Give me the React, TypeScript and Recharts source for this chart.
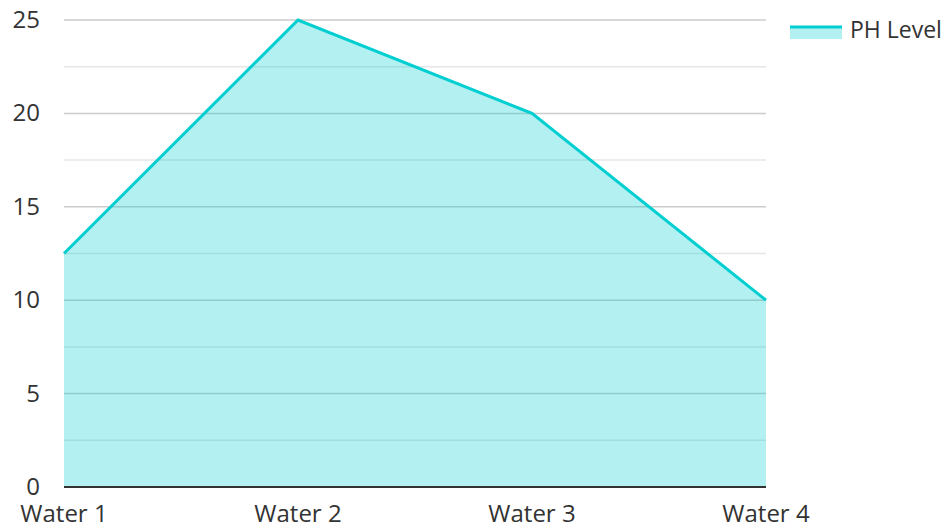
import { AreaChart, Area, XAxis, YAxis, CartesianGrid, Legend } from 'recharts';

const categories = ['Water 1', 'Water 2', 'Water 3', 'Water 4'];
const phLevel = [12.5, 25, 20, 10];
const yTicks = [0, 2.5, 5, 7.5, 10, 12.5, 15, 17.5, 20, 22.5, 25];

const data = categories.map((name, i) => ({ name, ph: phLevel[i] }));

const FONT = '"Open Sans", sans-serif';
const LINE = '#00CED1';

const renderYTick = ({ x, y, payload }: any) => {
  if (payload.value % 5 !== 0) return <g />;
  return (
    <text x={x} y={y} dy={8} textAnchor="end" fill="#333" fontSize={24} fontFamily={FONT}>
      {payload.value}
    </text>
  );
};

const renderGridLine = (props: any) => {
  const { x1, x2, y1, y2, index } = props;
  const major = index % 2 === 0;
  return (
    <line
      key={`h-${index}`}
      x1={x1}
      x2={x2}
      y1={y1}
      y2={y2}
      stroke={major ? '#cccccc' : '#e6e6e6'}
      strokeWidth={1.5}
    />
  );
};

const renderLegend = () => (
  <div style={{ display: 'flex', alignItems: 'center', fontFamily: FONT, fontSize: 23, color: '#333', whiteSpace: 'nowrap' }}>
    <svg width={52} height={16} style={{ marginRight: 8, marginTop: 4 }}>
      <rect x={0} y={4} width={52} height={12} fill={LINE} fillOpacity={0.3} />
      <line x1={0} x2={52} y1={4} y2={4} stroke={LINE} strokeWidth={3} />
    </svg>
    <span>PH Level</span>
  </div>
);

export default function App() {
  return (
    <div style={{ width: 936, height: 518 }}>
      <AreaChart width={944} height={518} data={data} margin={{ top: 12, right: 186, bottom: 0, left: 0 }} style={{ overflow: 'visible' }}>
        <CartesianGrid vertical={false} horizontal={renderGridLine} />
        <XAxis
          dataKey="name"
          axisLine={{ stroke: '#333', strokeWidth: 2 }}
          tickLine={false}
          height={39}
          tickMargin={12}
          interval={0}
          tick={{ fill: '#333', fontSize: 24, fontFamily: FONT }}
        />
        <YAxis
          domain={[0, 25]}
          ticks={yTicks}
          interval={0}
          width={56}
          axisLine={false}
          tickLine={false}
          tickMargin={18}
          tick={renderYTick}
        />
        <Legend
          layout="horizontal"
          verticalAlign="middle"
          align="center"
          content={renderLegend}
          wrapperStyle={{ top: 5, left: 782, width: 160, overflow: 'visible' }}
        />
        <Area
          type="linear"
          dataKey="ph"
          name="PH Level"
          stroke={LINE}
          strokeWidth={3}
          fill={LINE}
          fillOpacity={0.3}
          isAnimationActive={false}
        />
      </AreaChart>
    </div>
  );
}
